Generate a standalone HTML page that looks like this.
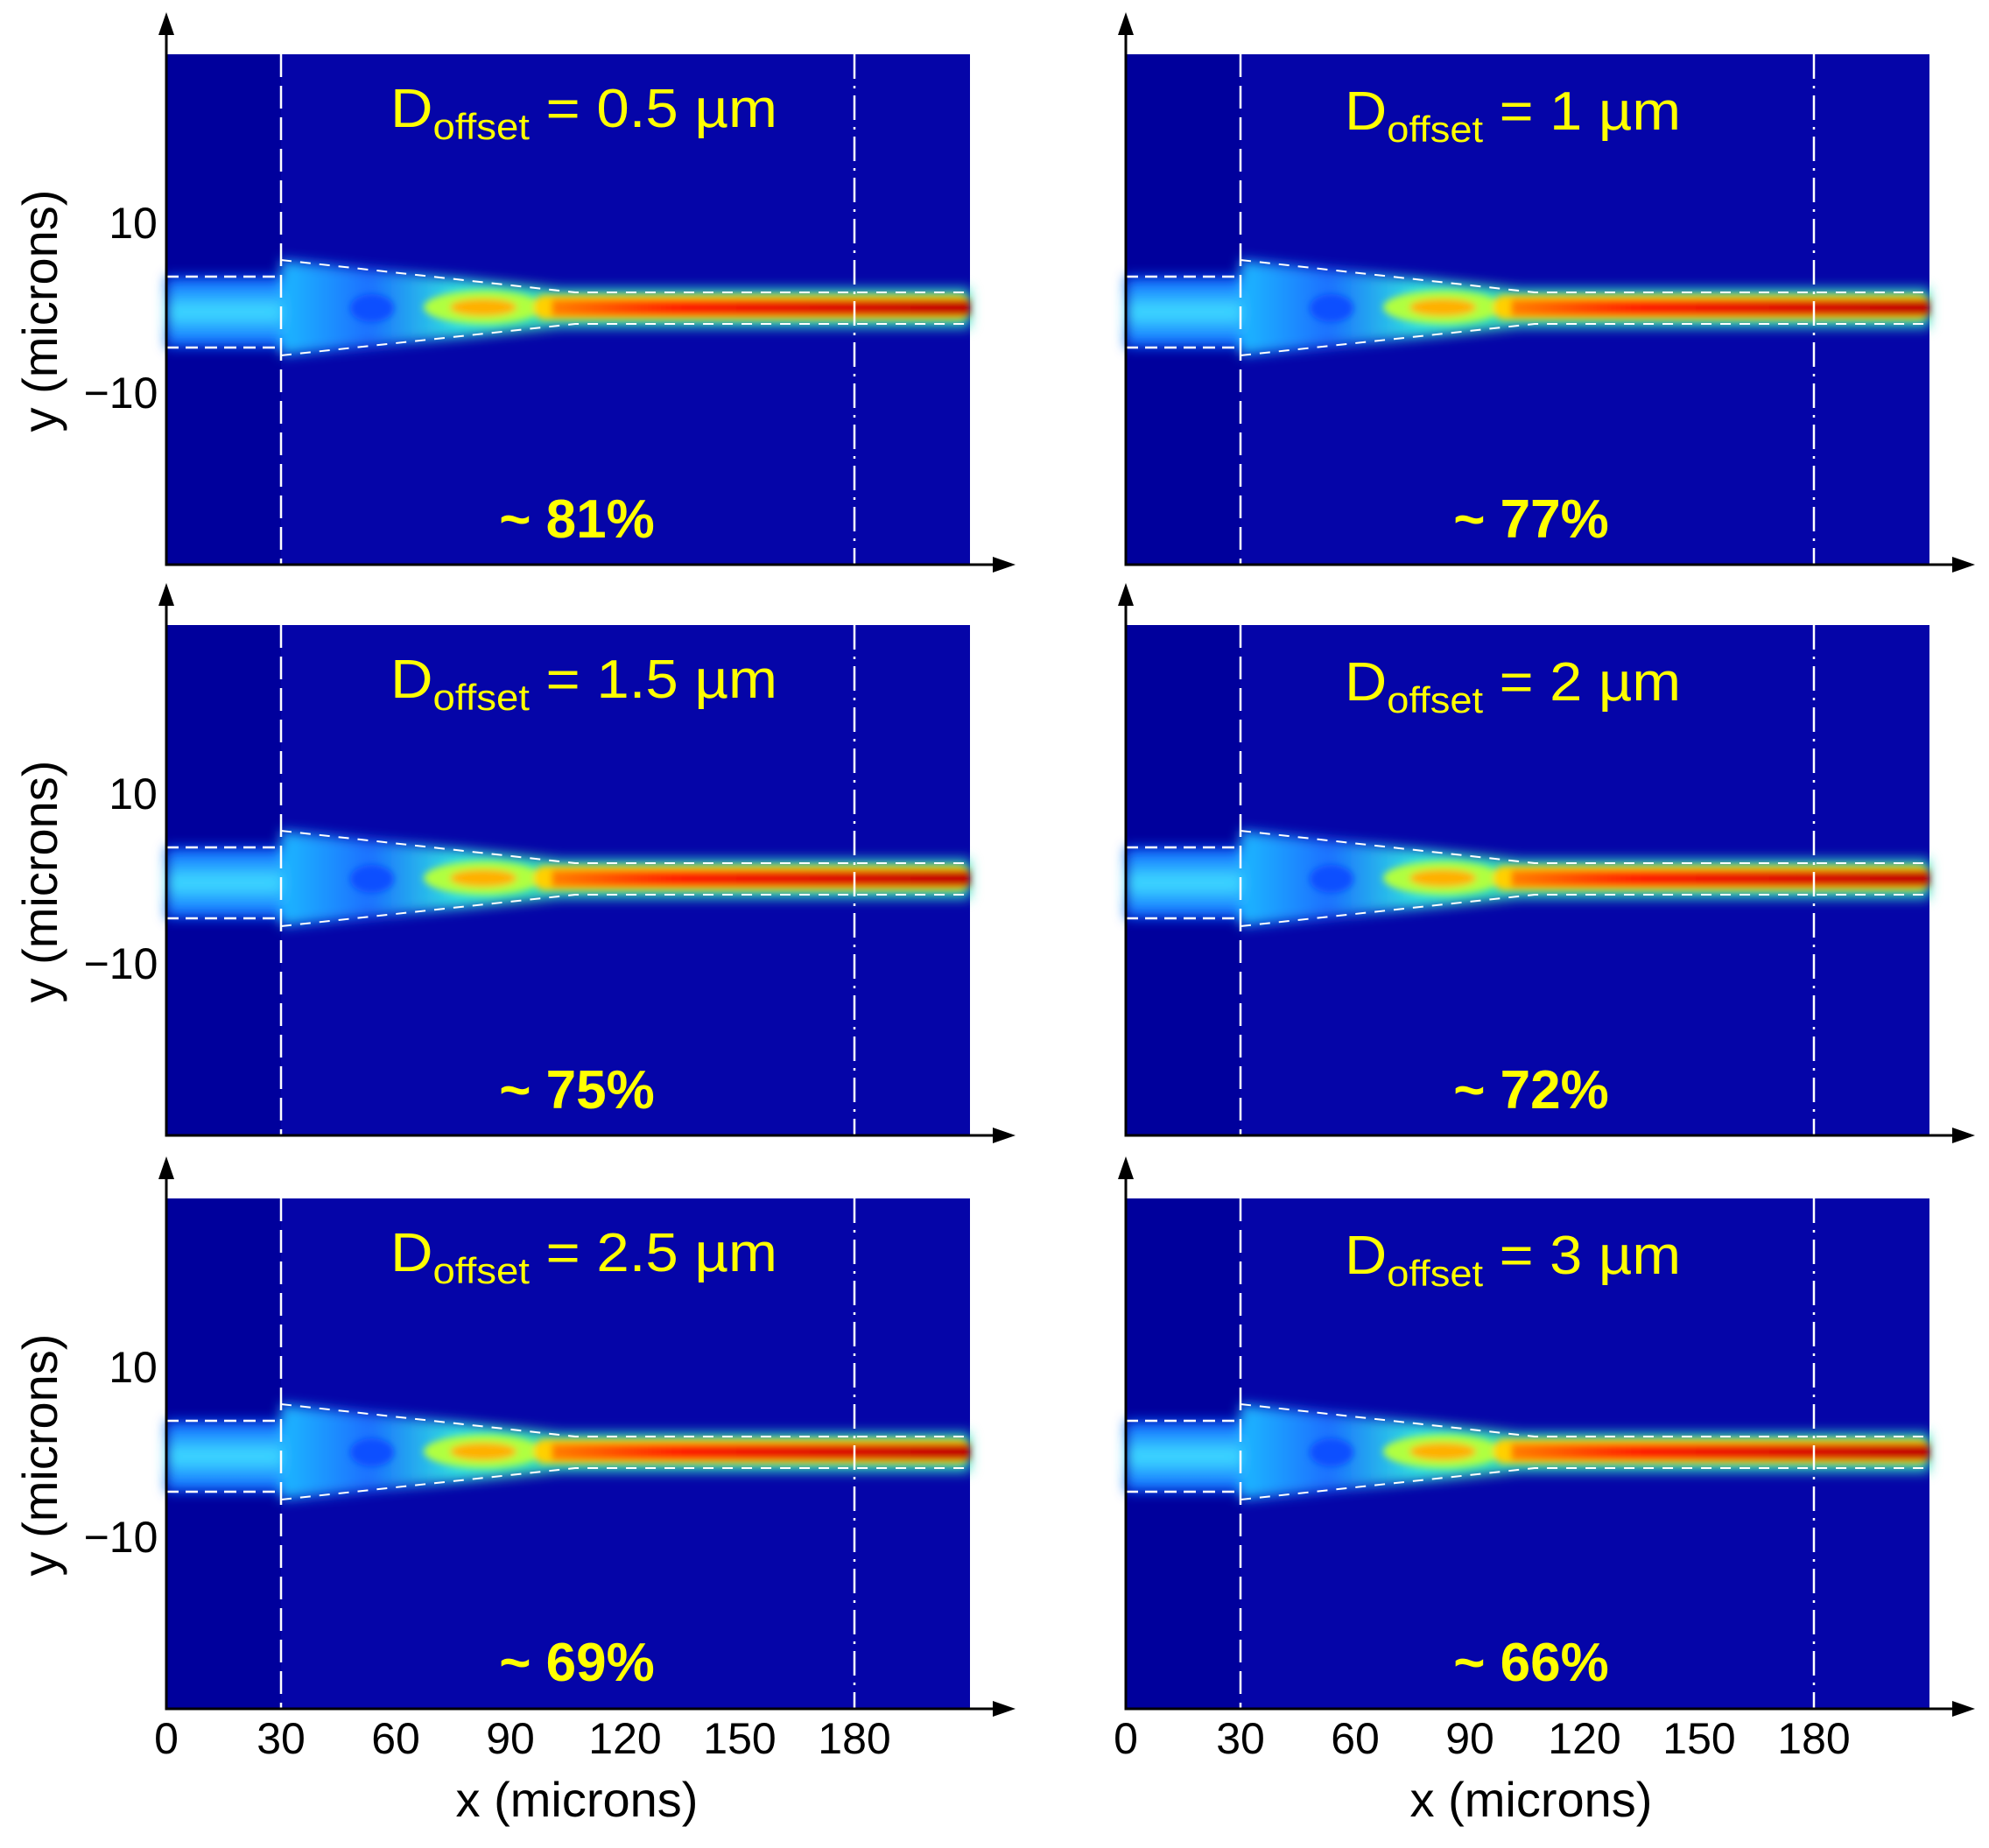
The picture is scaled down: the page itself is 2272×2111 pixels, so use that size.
<!DOCTYPE html>
<html><head><meta charset="utf-8"><style>html,body{margin:0;padding:0;background:#fff}svg{display:block}</style></head>
<body>
<svg width="2272" height="2111" viewBox="0 0 2272 2111" xmlns="http://www.w3.org/2000/svg" font-family="Liberation Sans, sans-serif">
<defs>
<filter id="bl" x="-10%" y="-50%" width="120%" height="200%"><feGaussianBlur stdDeviation="7"/></filter>
<filter id="bl2" x="-10%" y="-50%" width="120%" height="200%"><feGaussianBlur stdDeviation="4"/></filter>
<linearGradient id="gin" x1="0" y1="0" x2="0" y2="1">
<stop offset="0" stop-color="#0a5cff"/><stop offset="0.5" stop-color="#40e0ff"/><stop offset="1" stop-color="#0a5cff"/></linearGradient>
<linearGradient id="gtap" x1="0" y1="0" x2="1" y2="0">
<stop offset="0" stop-color="#20b8ff"/><stop offset="0.3" stop-color="#1a70ff"/><stop offset="0.6" stop-color="#30e0e0"/><stop offset="1" stop-color="#60ff90"/></linearGradient>
<linearGradient id="gred" x1="0" y1="0" x2="1" y2="0">
<stop offset="0" stop-color="#ff8000"/><stop offset="0.3" stop-color="#ff2000"/><stop offset="1" stop-color="#c00000"/></linearGradient>
<g id="heat">
<rect x="0" y="0" width="918" height="583" fill="#0505a8"/>
<rect x="0" y="0" width="131" height="583" fill="#00009c"/>
<g filter="url(#bl)">
<rect x="0" y="254" width="131" height="81" fill="url(#gin)"/>
<polygon points="131,235 467,270 467,310 131,344" fill="url(#gtap)"/>
<rect x="380" y="268" width="538" height="44" fill="#30e0c0"/>
</g>
<g filter="url(#bl2)">
<ellipse cx="235" cy="290" rx="25" ry="16" fill="#0a50ff"/>
<ellipse cx="362" cy="289" rx="68" ry="19" fill="#b0ff40"/>
<ellipse cx="362" cy="289" rx="38" ry="10" fill="#ffb000"/>
<rect x="420" y="275" width="498" height="28" rx="12" fill="#ffd000"/>
<rect x="440" y="280" width="478" height="19" fill="url(#gred)"/>
</g>
<g stroke="#fff" stroke-width="2.5" fill="none">
<path d="M0 254H131M0 335H131" stroke-dasharray="14,8"/>
<path d="M131 235L467 272H918M131 344L467 308H918" stroke-dasharray="12,10" stroke-width="2"/>
<path d="M131 0V583" stroke-dasharray="26,10"/>
<path d="M786 0V583" stroke-dasharray="28,8,3,8"/>
</g>
</g>
<g id="ax" fill="#000">
<path d="M0 -40V583H950" stroke="#000" stroke-width="3" fill="none"/>
<polygon points="0,-48 -9,-22 9,-22"/>
<polygon points="970,583 944,574 944,592"/>
</g>
</defs>

<g font-size="0">
<use href="#heat" x="190" y="62"/><use href="#ax" x="190" y="62"/>
<use href="#heat" x="1286" y="62"/><use href="#ax" x="1286" y="62"/>
<use href="#heat" x="190" y="714"/><use href="#ax" x="190" y="714"/>
<use href="#heat" x="1286" y="714"/><use href="#ax" x="1286" y="714"/>
<use href="#heat" x="190" y="1369"/><use href="#ax" x="190" y="1369"/>
<use href="#heat" x="1286" y="1369"/><use href="#ax" x="1286" y="1369"/>
</g>

<g fill="#ffff00" font-size="62">
<text x="446" y="145" textLength="442" lengthAdjust="spacingAndGlyphs">D<tspan font-size="42" dy="14">offset</tspan><tspan dy="-14"> = 0.5 µm</tspan></text>
<text x="1536" y="148" textLength="384" lengthAdjust="spacingAndGlyphs">D<tspan font-size="42" dy="14">offset</tspan><tspan dy="-14"> = 1 µm</tspan></text>
<text x="446" y="797" textLength="442" lengthAdjust="spacingAndGlyphs">D<tspan font-size="42" dy="14">offset</tspan><tspan dy="-14"> = 1.5 µm</tspan></text>
<text x="1536" y="800" textLength="384" lengthAdjust="spacingAndGlyphs">D<tspan font-size="42" dy="14">offset</tspan><tspan dy="-14"> = 2 µm</tspan></text>
<text x="446" y="1452" textLength="442" lengthAdjust="spacingAndGlyphs">D<tspan font-size="42" dy="14">offset</tspan><tspan dy="-14"> = 2.5 µm</tspan></text>
<text x="1536" y="1455" textLength="384" lengthAdjust="spacingAndGlyphs">D<tspan font-size="42" dy="14">offset</tspan><tspan dy="-14"> = 3 µm</tspan></text>
</g>
<g fill="#ffff00" font-size="62" font-weight="bold" text-anchor="middle">
<text x="659" y="614">~ 81%</text><text x="1749" y="614">~ 77%</text>
<text x="659" y="1266">~ 75%</text><text x="1749" y="1266">~ 72%</text>
<text x="659" y="1920">~ 69%</text><text x="1749" y="1920">~ 66%</text>
</g>

<g fill="#000" font-size="50" text-anchor="middle">
<text x="152" y="272">10</text><text x="138" y="466">−10</text>
<text x="152" y="924">10</text><text x="138" y="1118">−10</text>
<text x="152" y="1579">10</text><text x="138" y="1773">−10</text>
<text transform="translate(65,355) rotate(-90)" font-size="56">y (microns)</text>
<text transform="translate(65,1007) rotate(-90)" font-size="56">y (microns)</text>
<text transform="translate(65,1662) rotate(-90)" font-size="56">y (microns)</text>
</g>
<g fill="#000" font-size="50" text-anchor="middle">
<text x="190" y="2003">0</text><text x="321" y="2003">30</text><text x="452" y="2003">60</text><text x="583" y="2003">90</text><text x="714" y="2003">120</text><text x="845" y="2003">150</text><text x="976" y="2003">180</text>
<text x="1286" y="2003">0</text><text x="1417" y="2003">30</text><text x="1548" y="2003">60</text><text x="1679" y="2003">90</text><text x="1810" y="2003">120</text><text x="1941" y="2003">150</text><text x="2072" y="2003">180</text>
<text x="659" y="2075" font-size="56">x (microns)</text>
<text x="1749" y="2075" font-size="56">x (microns)</text>
</g>
</svg>
</body></html>
